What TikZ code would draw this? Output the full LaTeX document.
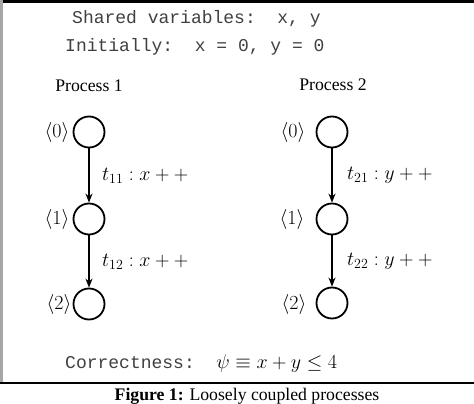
\RequirePackage{fix-cm}
\documentclass[tikz,border=0pt]{standalone}
\usepackage[no-math]{fontspec}
\usepackage{amsmath,amssymb}
\setmainfont{Liberation Serif}
\setmonofont{Liberation Mono}
\usetikzlibrary{arrows.meta}

\begin{document}
\begin{tikzpicture}[x=1pt,y=-1pt,every node/.style={font=\fontsize{17.7}{21}\selectfont,inner sep=0pt},
  stnode/.style={circle,draw,line width=1.8pt,minimum size=31pt},
  trans/.style={line width=2.2pt,-{Stealth[length=9pt,width=7pt]}},
  mathlbl/.style={font=\fontsize{20}{24}\selectfont},
  code/.style={font=\fontsize{18}{21}\selectfont\ttfamily,text=black!75}]
\useasboundingbox (0,0) rectangle (474,404);
% frame
\draw[line width=3pt] (0,1.5) -- (474,1.5);
\draw[gray!70,line width=3pt] (1.5,0) -- (1.5,383);
\draw[line width=1.6pt] (0,383) -- (474,383);
% header
\node[code,anchor=west] (shared) at (72,19) {Shared variables:~~x, y};
\node[code,anchor=west] (init) at (65,47) {Initially:~~x = 0, y = 0};
% process 1
\node (title1) at (89,86) {Process 1};
\node[stnode] (p1s0) at (89,132) {};
\node[stnode] (p1s1) at (89,219) {};
\node[stnode] (p1s2) at (89,304) {};
\node[mathlbl] (p1l0) at (57,132) {$\langle 0\rangle$};
\node[mathlbl] (p1l1) at (57,219) {$\langle 1\rangle$};
\node[mathlbl] (p1l2) at (59,304) {$\langle 2\rangle$};
\draw[trans] (p1s0) -- (p1s1) node[mathlbl,midway,anchor=west,xshift=12pt] (t11) {$t_{11}: x++$};
\draw[trans] (p1s1) -- (p1s2) node[mathlbl,midway,anchor=west,xshift=12pt] (t12) {$t_{12}: x++$};
% process 2
\node (title2) at (333,85) {Process 2};
\node[stnode] (p2s0) at (332,132) {};
\node[stnode] (p2s1) at (332,219) {};
\node[stnode] (p2s2) at (332,303) {};
\node[mathlbl] (p2l0) at (293,132) {$\langle 0\rangle$};
\node[mathlbl] (p2l1) at (292,219) {$\langle 1\rangle$};
\node[mathlbl] (p2l2) at (294,304) {$\langle 2\rangle$};
\draw[trans] (p2s0) -- (p2s1) node[mathlbl,midway,anchor=west,xshift=14pt] (t21) {$t_{21}: y++$};
\draw[trans] (p2s1) -- (p2s2) node[mathlbl,midway,anchor=west,xshift=14pt] (t22) {$t_{22}: y++$};
% correctness and caption
\node[code,anchor=west] (correct) at (65,363) {Correctness:~~\fontsize{20}{24}\selectfont\color{black}$\psi\equiv x+y\le 4$};
\node (caption) at (247,396) {\textbf{Figure 1:} Loosely coupled processes};
\end{tikzpicture}
\end{document}
